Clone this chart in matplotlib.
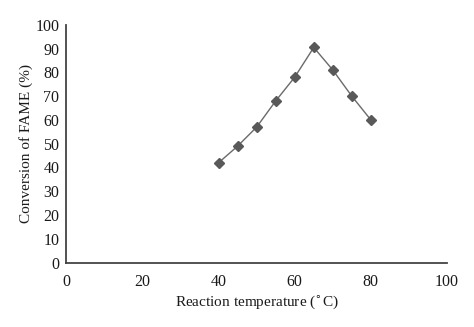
import matplotlib.pyplot as plt

plt.rcParams['font.family'] = ['Liberation Serif', 'DejaVu Serif']

temperature = [40, 45, 50, 55, 60, 65, 70, 75, 80]
conversion = [42, 49, 57, 68, 78, 90.5, 81, 70, 60]

x_ticks = [0, 20, 40, 60, 80, 100]
y_ticks = list(range(0, 101, 10))

fig = plt.figure(figsize=(4.74, 3.27), dpi=100)
ax = fig.add_axes([0.140, 0.197, 0.803, 0.727])

ax.plot(temperature, conversion, color='#6a6a6a', linewidth=1.0,
        marker='D', markersize=5.5, markerfacecolor='#595959', markeredgecolor='#595959')

ax.set_xlim(0, 100)
ax.set_ylim(0, 100)
ax.set_xticks(x_ticks)
ax.set_yticks(y_ticks)
ax.tick_params(length=0, labelsize=11.5, colors='#1a1a1a')
ax.tick_params(axis='x', pad=8)
ax.tick_params(axis='y', pad=5)

for side in ['top', 'right']:
    ax.spines[side].set_visible(False)
for side in ['left', 'bottom']:
    ax.spines[side].set_color('#444444')
    ax.spines[side].set_linewidth(1.3)

ax.set_xlabel('Reaction temperature ($^{\\circ}$C)', fontsize=11, color='#1a1a1a', labelpad=2.5)
ax.set_ylabel('Conversion of FAME (%)', fontsize=11, color='#1a1a1a', labelpad=1.5)

fig.savefig('out.png', dpi=100)
